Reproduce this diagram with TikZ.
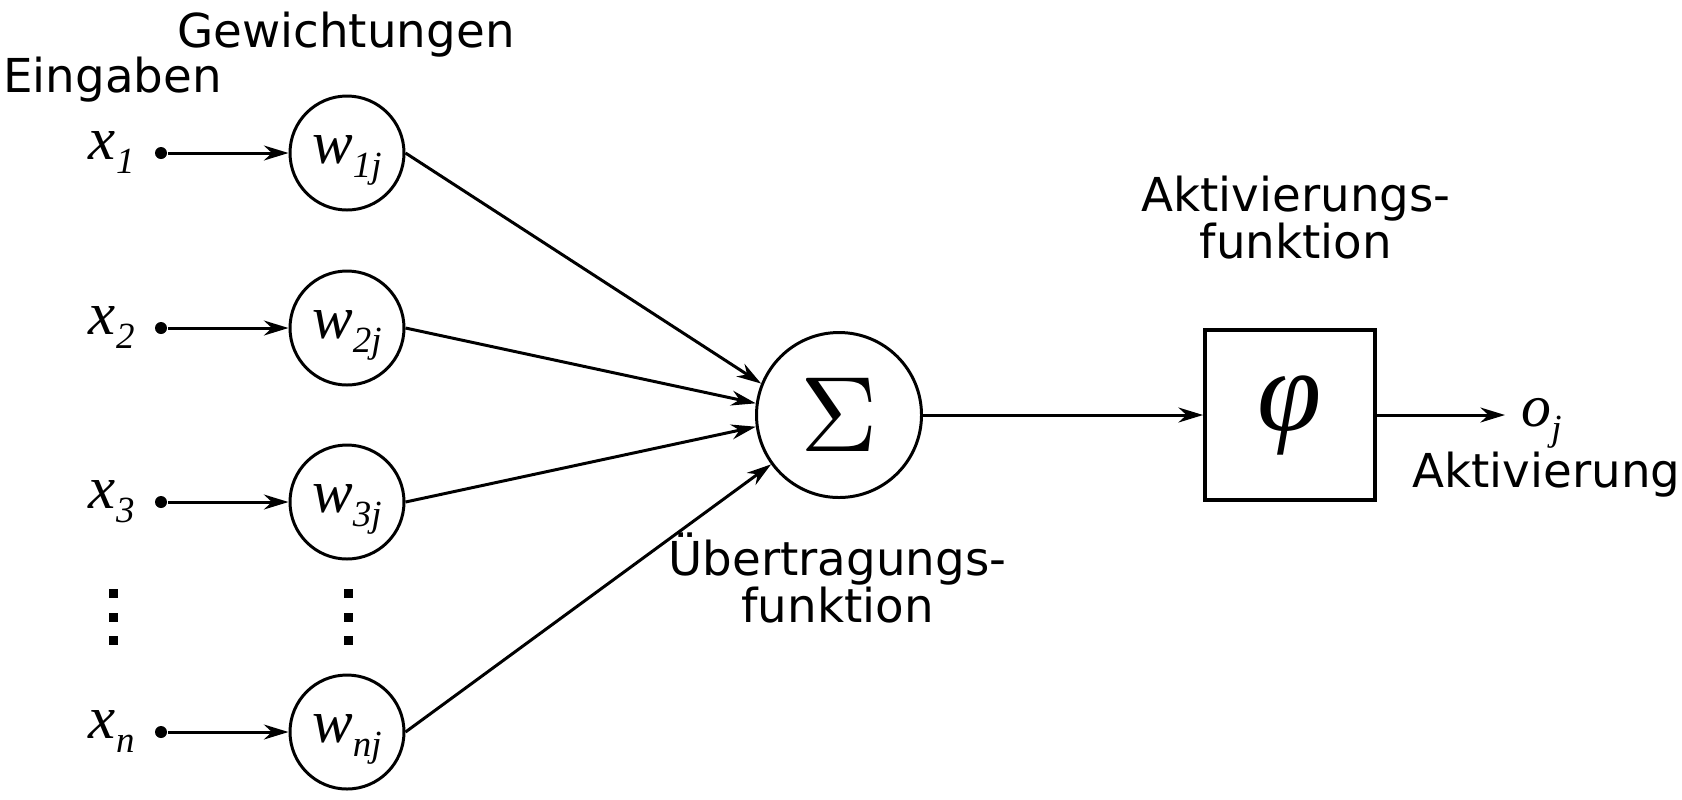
\RequirePackage{fix-cm}
\documentclass[tikz,border=0pt]{standalone}
\usepackage[no-math]{fontspec}
\setmainfont{DejaVu Sans}
\newfontfamily\timesfont{Liberation Serif}
\usetikzlibrary{arrows.meta}

\newcommand{\subidx}[1]{\lower8.5pt\hbox{\fontsize{21}{22}\selectfont #1}}

\begin{document}
\begin{tikzpicture}[>={Stealth[length=14pt,width=8.5pt]},
                    line width=1.7pt,
                    font=\fontsize{26.6}{26.2}\selectfont,
                    weight/.style={circle,draw,inner sep=0pt,minimum size=2.28cm,
                      font=\timesfont\itshape\fontsize{34.7}{36}\selectfont,
                      text height=22pt,text depth=10.6pt},
                    input/.style={anchor=base east,inner sep=0pt,
                      font=\timesfont\itshape\fontsize{34.7}{36}\selectfont},
                    dot/.style={circle,fill,inner sep=0pt,minimum size=0.24cm},
                    caption/.style={anchor=base,inner sep=0pt,align=center}]
              \useasboundingbox (0,0) rectangle (33.64,-15.98);
              % captions
              \node[caption] (eingaben) at (2.25,-1.84) {Eingaben};
              \node[caption] (gewicht) at (6.92,-0.94) {Gewichtungen};
              % inputs and weights
              \node[input] (x1) at (2.72,-3.18) {x\subidx{1}};
              \node[input] (x2) at (2.72,-6.68) {x\subidx{2}};
              \node[input] (x3) at (2.72,-10.16) {x\subidx{3}};
              \node[input] (xn) at (2.72,-14.76) {x\subidx{n}};
              \node[dot] (d1) at (3.22,-3.06) {};
              \node[dot] (d2) at (3.22,-6.56) {};
              \node[dot] (d3) at (3.22,-10.04) {};
              \node[dot] (dn) at (3.22,-14.64) {};
              \node[weight] (w1) at (6.94,-3.06) {w\subidx{1j}};
              \node[weight] (w2) at (6.94,-6.56) {w\subidx{2j}};
              \node[weight] (w3) at (6.94,-10.04) {w\subidx{3j}};
              \node[weight] (wn) at (6.94,-14.64) {w\subidx{nj}};
              % vertical dots
              \foreach \xx in {2.26,6.96}
                \foreach \yy in {-11.86,-12.34,-12.80}
                  \fill (\xx-0.09,\yy-0.09) rectangle ++(0.18,0.18);
              % sum and activation
              \node[circle,draw,inner sep=0pt,minimum size=3.30cm,
                    font=\fontsize{10}{12}\selectfont] (sum) at (16.78,-8.30) {\scalebox{6.1}{$\Sigma$}};
              \node[caption] (uebertr) at (16.75,-12.44) {Übertragungs-\\funktion};
              \node[draw,inner sep=0pt,minimum size=3.40cm,line width=2.2pt,
                    font=\timesfont\itshape\fontsize{66}{66}\selectfont] (phi) at (25.80,-8.30) {φ};
              \node[caption] (aktfkt) at (25.92,-5.16) {Aktivierungs-\\funktion};
              \coordinate (out) at (30.10,-8.30);
              \node[anchor=base west,inner sep=0pt,
                    font=\timesfont\itshape\fontsize{34}{34}\selectfont] (oj) at (30.40,-8.52) {o\subidx{j}};
              \node[anchor=base west,inner sep=0pt] (akt) at (28.22,-9.74) {Aktivierung};
              % connectors
              \draw[->] (d1) -- (w1);
              \draw[->] (d2) -- (w2);
              \draw[->] (d3) -- (w3);
              \draw[->] (dn) -- (wn);
              \draw[->] (w1.east) -- (sum.158);
              \draw[->] (w2.east) -- (sum.172);
              \draw[->] (w3.east) -- (sum.188);
              \draw[->] (wn.east) -- (sum.216);
              \draw[->] (sum) -- (phi);
              \draw[->] (phi) -- (out);
\end{tikzpicture}
\end{document}
